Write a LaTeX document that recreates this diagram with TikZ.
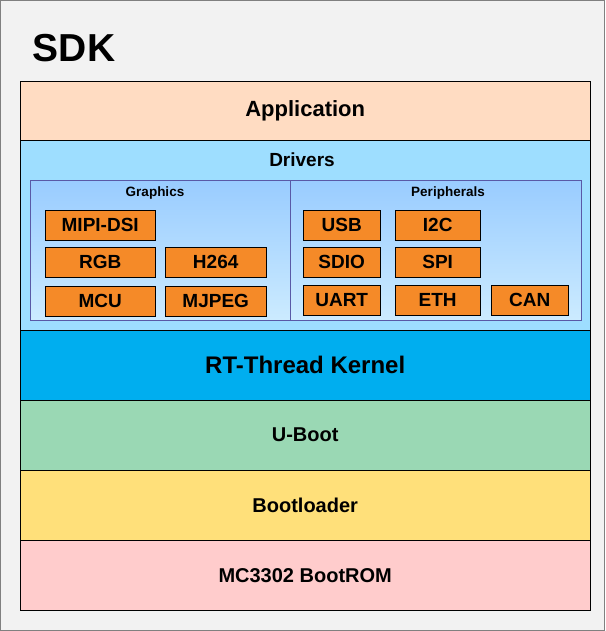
\documentclass[tikz,border=0pt]{standalone}
\usepackage{fontspec}
\setmainfont{Liberation Sans}
\definecolor{appcol}{HTML}{FFDCC2}
\definecolor{drvcol}{HTML}{9EDEFF}
\definecolor{kercol}{HTML}{00AEEF}
\definecolor{ubcol}{HTML}{9AD8B4}
\definecolor{blcol}{HTML}{FFE07A}
\definecolor{romcol}{HTML}{FFCCCC}
\definecolor{drvbox}{HTML}{F58A28}
\definecolor{paneltop}{HTML}{99CCFF}
\definecolor{panelbot}{HTML}{CCEBFF}
\tikzset{
  layer/.style={draw,rectangle,anchor=north west,minimum width=570pt,inner sep=0pt,font=\bfseries},
  panel/.style={draw=gray!70!blue,rectangle,anchor=north west,top color=paneltop,bottom color=panelbot,inner sep=0pt,minimum height=140pt},
  drv/.style={draw,rectangle,fill=drvbox,anchor=north west,minimum height=30pt,inner sep=0pt,font=\bfseries\fontsize{19}{19}\selectfont}
}
\begin{document}
\begin{tikzpicture}[x=1pt,y=-1pt]
  \useasboundingbox (0,0) rectangle (605,631);
  \node (SDK) at (0,0) [draw=gray,fill=gray!10,rectangle,anchor=north west,minimum width=604pt,minimum height=630pt] {};
  \node at (74,48) [font=\bfseries\fontsize{39}{39}\selectfont] {SDK};
  %% layers
  \node (App) at (20,81) [layer,fill=appcol,minimum height=59pt,font=\bfseries\fontsize{22}{22}\selectfont] {Application};
  \node (Drv) at (20,140) [layer,fill=drvcol,minimum height=190pt] {};
  \node at (302,160) [font=\bfseries\fontsize{19}{19}\selectfont] {Drivers};
  \node (Kernel) at (20,330) [layer,fill=kercol,minimum height=70pt,font=\bfseries\fontsize{24}{24}\selectfont] {RT-Thread Kernel};
  \node (UBoot) at (20,400) [layer,fill=ubcol,minimum height=70pt,font=\bfseries\fontsize{20}{20}\selectfont] {U-Boot};
  \node (Boot) at (20,470) [layer,fill=blcol,minimum height=70pt,font=\bfseries\fontsize{20}{20}\selectfont] {Bootloader};
  \node (ROM) at (20,540) [layer,fill=romcol,minimum height=70pt,font=\bfseries\fontsize{20}{20}\selectfont] {MC3302 BootROM};
  %% panels
  \node (Gfx) at (30,180) [panel,minimum width=260pt] {};
  \node (Per) at (290,180) [panel,minimum width=291pt] {};
  \node at (155,193) [font=\bfseries\fontsize{13.5}{13.5}\selectfont] {Graphics};
  \node at (448,193) [font=\bfseries\fontsize{13.5}{13.5}\selectfont] {Peripherals};
  %% drivers
  \node (MIPI) at (45,210) [drv,minimum width=110pt] {MIPI-DSI};
  \node (RGB) at (45,247) [drv,minimum width=110pt] {RGB};
  \node (H264) at (165,247) [drv,minimum width=101pt] {H264};
  \node (MCU) at (45,286) [drv,minimum width=110pt] {MCU};
  \node (MJPEG) at (165,286) [drv,minimum width=101pt] {MJPEG};
  \node (USB) at (303,210) [drv,minimum width=77pt] {USB};
  \node (I2C) at (395,210) [drv,minimum width=85pt] {I2C};
  \node (SDIO) at (303,247) [drv,minimum width=77pt] {SDIO};
  \node (SPI) at (395,247) [drv,minimum width=85pt] {SPI};
  \node (UART) at (303,285) [drv,minimum width=77pt] {UART};
  \node (ETH) at (395,285) [drv,minimum width=85pt] {ETH};
  \node (CAN) at (491,285) [drv,minimum width=77pt] {CAN};
\end{tikzpicture}
\end{document}
